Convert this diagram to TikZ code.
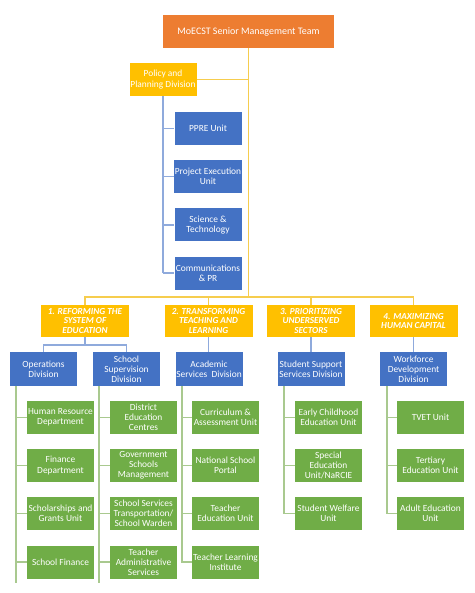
\documentclass[tikz,border=0pt]{standalone}
\usepackage{fontspec}
\setmainfont{Carlito}
\definecolor{orgorange}{HTML}{ED7D31}
\definecolor{orggold}{HTML}{FFC000}
\definecolor{orgblue}{HTML}{4472C4}
\definecolor{orggreen}{HTML}{70AD47}
\definecolor{goldline}{HTML}{F6CD4E}
\definecolor{blueline}{HTML}{8FAADC}
\definecolor{greenline}{HTML}{A9C98F}
\tikzset{
  box/.style={fill=#1, text=white, align=center, inner sep=0.5pt,
    font=\fontsize{9.4}{10.2}\selectfont},
  unitbox/.style={box=#1, minimum width=67pt, minimum height=33pt},
  pillarbox/.style={box=orggold, minimum width=88pt, minimum height=32pt,
    font=\fontsize{9.2}{9.6}\selectfont\bfseries\itshape},
  gline/.style={goldline, line width=1.1pt},
  bline/.style={blueline, line width=1.2pt},
  grline/.style={greenline, line width=1.2pt},
}
\begin{document}
\begin{tikzpicture}[x=1pt, y=-1pt]
  \useasboundingbox[fill=white] (0,0) rectangle (474,593);
  % top level
  \node[box=orgorange, minimum width=171pt, minimum height=33pt,
    font=\fontsize{10}{11}\selectfont] (smt) at (248.5,31.5) {MoECST Senior Management Team};
  \node[unitbox=orggold] (ppd) at (163,79.5) {Policy and\\Planning Division};
  \node[unitbox=orgblue] (ppre) at (208,128.5) {PPRE Unit};
  \node[unitbox=orgblue] (peu) at (208,176.5) {Project Execution\\Unit};
  \node[unitbox=orgblue] (sci) at (208,225) {Science \&\\Technology};
  \node[unitbox=orgblue] (comm) at (208,273) {Communications\\\& PR};
  % pillars
  \node[pillarbox] (p1) at (85,321) {1. REFORMING THE\\SYSTEM OF\\EDUCATION};
  \node[pillarbox] (p2) at (208.5,321) {2. TRANSFORMING\\TEACHING AND\\LEARNING};
  \node[pillarbox] (p3) at (311,321) {3. PRIORITIZING\\UNDERSERVED\\SECTORS};
  \node[pillarbox] (p4) at (413.5,321) {4. MAXIMIZING\\HUMAN CAPITAL};
  % divisions
  \node[unitbox=orgblue, minimum height=34pt] (ops) at (43.5,369) {Operations\\Division};
  \node[unitbox=orgblue, minimum height=34pt] (sup) at (126.5,369) {School\\Supervision\\Division};
  \node[unitbox=orgblue, minimum height=34pt] (acad) at (209,369) {Academic\\Services\ \ Division};
  \node[unitbox=orgblue, minimum height=34pt] (stud) at (311,369) {Student Support\\Services Division};
  \node[unitbox=orgblue, minimum height=34pt] (work) at (413.5,369) {Workforce\\Development\\Division};
  % units
  \node[unitbox=orggreen] (hr) at (60.5,417.5) {Human Resource\\Department};
  \node[unitbox=orggreen] (fin) at (60.5,465.5) {Finance\\Department};
  \node[unitbox=orggreen] (schol) at (60.5,513.5) {Scholarships and\\Grants Unit};
  \node[unitbox=orggreen] (sfin) at (60.5,562) {School Finance};
  \node[unitbox=orggreen] (dec) at (143.5,417.5) {District\\Education\\Centres};
  \node[unitbox=orggreen] (gsm) at (143.5,465.5) {Government\\Schools\\Management};
  \node[unitbox=orggreen] (sst) at (143.5,513.5) {School Services\\Transportation/\\School Warden};
  \node[unitbox=orggreen] (tas) at (143.5,562) {Teacher\\Administrative\\Services};
  \node[unitbox=orggreen] (cau) at (225.5,417.5) {Curriculum \&\\Assessment Unit};
  \node[unitbox=orggreen] (nsp) at (225.5,465.5) {National School\\Portal};
  \node[unitbox=orggreen] (teu) at (225.5,513.5) {Teacher\\Education Unit};
  \node[unitbox=orggreen] (tli) at (225.5,562) {Teacher Learning\\Institute};
  \node[unitbox=orggreen] (ece) at (328.5,417.5) {Early Childhood\\Education Unit};
  \node[unitbox=orggreen] (seu) at (328.5,465.5) {Special\\Education\\Unit/NaRCIE};
  \node[unitbox=orggreen] (swu) at (328.5,513.5) {Student Welfare\\Unit};
  \node[unitbox=orggreen] (tvet) at (430.5,417.5) {TVET Unit};
  \node[unitbox=orggreen] (teru) at (430.5,465.5) {Tertiary\\Education Unit};
  \node[unitbox=orggreen] (aeu) at (430.5,513.5) {Adult Education\\Unit};
  % gold connectors
  \coordinate (bus) at (248.5,297);
  \draw[gline] (smt.south) -- (bus);
  \draw[gline] (ppd.east) -- (ppd.east -| smt.south);
  \draw[gline] (p1.north) |- (bus) -| (p4.north);
  \draw[gline] (p2.north) -- (p2.north |- bus);
  \draw[gline] (p3.north) -- (p3.north |- bus);
  % policy units
  \draw[bline] (ppd.south) -- (ppd.south |- comm.west);
  \draw[bline] (ppd.south |- ppre.west) -- (ppre.west);
  \draw[bline] (ppd.south |- peu.west) -- (peu.west);
  \draw[bline] (ppd.south |- sci.west) -- (sci.west);
  \draw[bline] (ppd.south |- comm.west) -- (comm.west);
  % pillars to divisions
  \coordinate (p1fork) at (85,345);
  \draw[bline] (p1.south) -- (p1fork);
  \draw[bline] (ops.north) |- (p1fork) -| (sup.north);
  \draw[bline] (p2.south) -- (p2.south |- acad.north);
  \draw[bline] (p3.south) -- (stud.north);
  \draw[bline] (p4.south) -- (work.north);
  % divisions to units
  \coordinate (opsend) at (16,583);
  \coordinate (supend) at (99,583);
  \coordinate (acadx) at (182,0);
  \coordinate (studx) at (284,0);
  \coordinate (workx) at (387,0);
  \draw[grline] (opsend |- ops.south) -- (opsend);
  \draw[grline] (opsend |- hr.west) -- (hr.west);
  \draw[grline] (opsend |- fin.west) -- (fin.west);
  \draw[grline] (opsend |- schol.west) -- (schol.west);
  \draw[grline] (opsend |- sfin.west) -- (sfin.west);
  \draw[grline] (supend |- sup.south) -- (supend);
  \draw[grline] (supend |- dec.west) -- (dec.west);
  \draw[grline] (supend |- gsm.west) -- (gsm.west);
  \draw[grline] (supend |- sst.west) -- (sst.west);
  \draw[grline] (supend |- tas.west) -- (tas.west);
  \draw[grline] (acadx |- acad.south) |- (tli.west);
  \draw[grline] (acadx |- cau.west) -- (cau.west);
  \draw[grline] (acadx |- nsp.west) -- (nsp.west);
  \draw[grline] (acadx |- teu.west) -- (teu.west);
  \draw[grline] (studx |- stud.south) |- (swu.west);
  \draw[grline] (studx |- ece.west) -- (ece.west);
  \draw[grline] (studx |- seu.west) -- (seu.west);
  \draw[grline] (workx |- work.south) |- (aeu.west);
  \draw[grline] (workx |- tvet.west) -- (tvet.west);
  \draw[grline] (workx |- teru.west) -- (teru.west);
\end{tikzpicture}
\end{document}
